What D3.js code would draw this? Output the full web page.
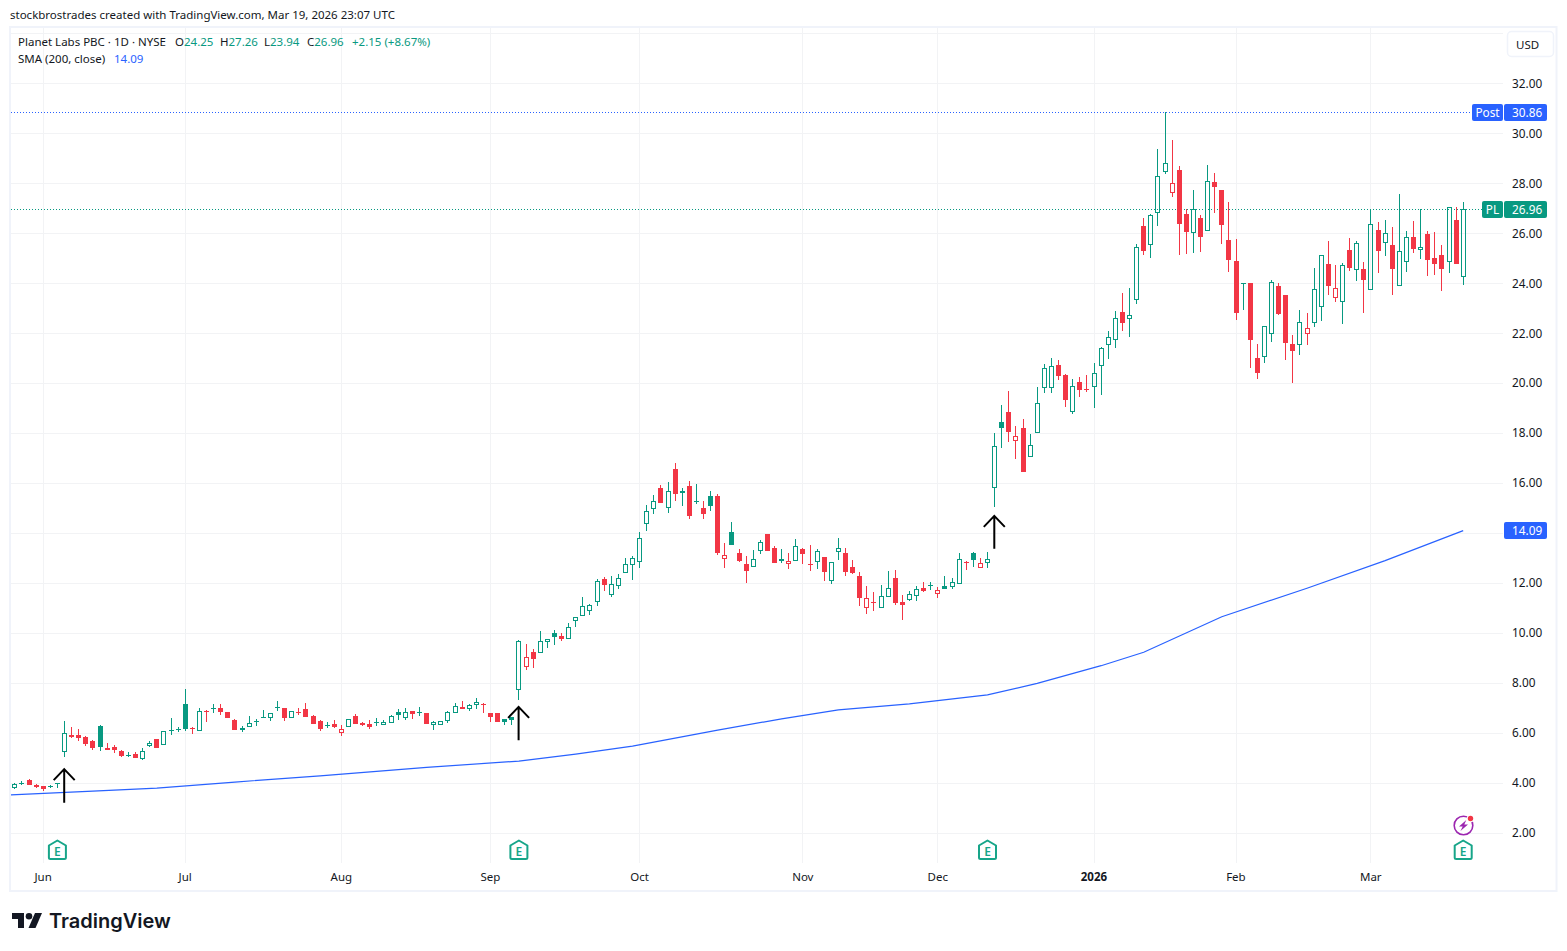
<!DOCTYPE html>
<html>
<head>
<meta charset="utf-8">
<title>Planet Labs PBC daily chart</title>
<script src="https://cdn.jsdelivr.net/npm/d3@7/dist/d3.min.js"></script>
<style>
  html, body { margin: 0; padding: 0; background: #fff; }
  svg { display: block; }
  text { font-family: "Noto Sans", sans-serif; font-size: 11.5px; fill: #131722; }
</style>
</head>
<body>
<svg id="chart" width="1567" height="951"></svg>
<script>
// Daily sessions, oldest first
const opens = [3.77,3.99,4.10,3.89,3.85,3.82,3.97,5.21,5.89,5.89,5.81,5.66,6.27,5.29,5.42,5.26,5.10,5.14,4.96,5.48,
5.73,5.52,6.07,6.09,7.15,6.18,6.08,6.85,6.96,6.97,6.81,6.50,6.09,6.21,6.45,6.60,6.60,7.00,6.99,6.57,
6.84,6.95,6.67,6.47,6.30,6.34,6.00,6.24,6.67,6.39,6.34,6.39,6.32,6.40,6.83,6.60,6.85,6.81,6.79,6.32,
6.32,6.48,6.77,7.01,6.96,7.12,7.16,6.79,6.79,6.53,6.61,7.69,8.64,9.23,9.18,9.62,9.99,9.87,9.74,10.46,
10.66,10.86,11.22,12.14,11.50,11.86,12.38,12.70,12.82,14.34,14.94,15.80,14.98,16.56,15.58,15.88,15.25,14.99,15.48,15.48,
12.97,14.04,13.18,12.74,12.62,13.29,13.95,13.39,12.94,12.74,12.89,13.34,12.74,12.82,13.03,12.09,13.22,13.18,12.62,12.27,
10.98,11.23,11.00,11.45,12.19,11.23,11.32,11.49,11.78,11.88,11.57,11.86,11.82,11.94,12.84,13.18,12.61,12.78,15.78,18.43,
18.83,17.67,18.19,17.02,17.99,19.79,19.79,20.71,20.31,18.85,20.03,19.76,19.86,20.70,21.51,21.71,22.83,22.58,23.31,26.29,
25.52,26.80,28.44,27.60,28.53,26.76,26.00,26.60,26.08,28.04,27.72,25.71,24.87,23.96,23.99,20.99,21.03,21.95,23.89,23.51,
21.55,21.51,21.98,22.39,23.03,24.76,23.39,23.23,25.33,24.51,24.55,23.71,26.11,25.59,25.51,23.87,24.83,25.83,25.34,25.95,
24.99,25.11,24.83,26.51,24.25];
const highs = [3.97,4.06,4.14,3.93,3.85,3.90,4.00,6.47,6.22,6.14,5.86,5.70,6.29,5.57,5.49,5.30,5.21,5.22,5.37,5.65,
5.75,6.08,6.59,6.21,7.75,6.21,6.97,6.91,7.15,7.15,6.81,6.54,6.25,6.65,6.55,6.89,6.78,7.27,6.99,6.85,
6.99,7.19,6.70,6.49,6.41,6.50,6.29,6.53,6.75,6.42,6.50,6.59,6.50,6.70,6.96,6.97,6.85,7.01,6.79,6.45,
6.48,6.87,7.20,7.25,7.15,7.37,7.17,6.79,6.79,6.53,6.61,9.70,9.55,9.35,10.06,9.76,10.11,9.99,10.39,10.62,
11.43,11.15,12.14,12.23,12.27,12.35,13.00,13.06,14.04,15.12,15.52,15.92,16.04,16.80,15.80,16.08,15.96,15.28,15.68,15.56,
13.59,14.44,13.35,13.06,13.31,13.71,13.95,13.47,13.35,13.19,13.75,13.39,13.51,13.34,13.03,12.82,13.79,13.39,12.91,12.43,
11.87,11.62,11.91,12.47,12.51,11.51,11.66,11.87,12.03,12.03,11.82,12.27,12.19,13.19,12.89,13.23,12.99,13.23,17.99,19.12,
19.68,18.28,18.56,17.96,19.84,20.76,20.99,20.92,20.36,20.16,20.24,20.31,20.79,21.43,22.07,22.87,23.61,23.81,25.55,26.61,
26.77,29.37,30.86,29.73,28.69,26.96,27.73,26.73,28.73,28.41,27.72,27.25,25.75,24.00,23.99,21.56,22.27,24.12,24.00,23.51,
21.91,22.92,22.79,24.60,25.11,25.69,24.72,24.79,25.81,25.69,24.83,26.96,26.45,26.53,26.25,27.57,26.09,26.49,26.95,26.07,
26.05,25.51,27.07,27.07,27.26];
const lows = [3.76,3.91,3.90,3.79,3.67,3.79,3.80,5.04,5.78,5.66,5.46,5.29,5.26,5.29,5.20,5.04,5.02,4.98,4.90,5.41,
5.38,5.52,5.92,6.01,6.08,5.96,6.08,6.44,6.77,6.70,6.60,6.10,6.04,6.21,6.25,6.59,6.48,6.87,6.48,6.57,
6.70,6.64,6.35,6.08,6.20,6.18,5.88,6.24,6.33,6.28,6.16,6.28,6.29,6.38,6.50,6.50,6.55,6.67,6.36,6.10,
6.32,6.40,6.77,6.96,6.88,6.96,6.80,6.44,6.43,6.30,6.30,7.32,8.51,8.59,9.18,9.40,9.51,9.67,9.74,10.24,
10.66,10.72,11.08,11.69,11.45,11.76,12.38,12.13,12.61,14.09,14.77,15.21,14.81,15.29,15.09,14.55,15.17,14.55,14.89,13.11,
12.61,13.53,12.85,12.00,12.62,13.15,13.29,12.81,12.81,12.55,12.89,12.75,12.49,12.55,12.07,11.97,12.91,12.27,12.35,11.07,
10.75,10.88,11.00,11.45,11.12,10.51,11.28,11.28,11.63,11.73,11.40,11.75,11.77,11.94,12.53,12.65,12.59,12.60,15.05,17.41,
17.65,16.97,16.45,17.02,17.99,19.61,19.61,20.13,19.05,18.77,19.45,19.65,19.01,19.53,20.98,21.42,22.10,21.86,23.18,25.14,
25.02,26.30,28.39,27.45,25.14,25.18,25.22,25.26,26.08,26.82,25.58,24.46,22.51,22.94,20.61,20.17,20.82,21.66,22.74,20.92,
20.00,21.14,21.52,22.26,22.50,23.52,23.26,22.38,24.49,24.10,22.82,23.71,24.42,25.10,23.54,23.87,24.46,25.22,24.98,24.28,
24.32,23.70,24.42,24.78,23.94];
const closes = [3.96,4.00,3.91,3.83,3.73,3.85,3.99,5.97,5.83,5.78,5.56,5.40,5.44,5.37,5.31,5.08,5.12,4.98,5.28,5.57,
5.38,6.05,6.10,6.13,6.16,6.15,6.85,6.82,6.98,6.84,6.60,6.10,6.20,6.40,6.47,6.62,6.77,7.01,6.60,6.85,
6.83,6.64,6.35,6.14,6.32,6.22,6.16,6.53,6.35,6.31,6.22,6.41,6.42,6.67,6.72,6.81,6.75,6.83,6.36,6.41,
6.48,6.81,7.05,6.96,7.09,7.21,7.11,6.64,6.43,6.44,6.52,9.66,9.02,8.95,9.66,9.76,9.84,9.73,10.22,10.62,
11.08,11.10,12.06,11.93,11.94,12.18,12.77,12.98,13.78,14.86,15.29,15.21,15.66,15.57,15.66,14.69,15.27,14.77,15.09,13.21,
13.10,13.53,12.89,12.49,12.94,13.62,13.29,12.81,12.87,12.86,13.46,13.17,12.73,13.26,12.45,12.82,13.38,12.45,12.39,11.40,
11.38,11.22,11.46,11.78,11.20,11.11,11.54,11.74,11.67,11.90,11.70,11.75,12.02,12.94,12.82,12.93,12.81,12.94,17.47,18.21,
18.05,17.87,16.45,17.50,19.19,20.59,20.70,20.30,19.33,19.87,19.73,19.72,20.39,21.39,21.83,22.59,22.42,22.71,25.43,25.30,
26.72,28.28,28.80,28.00,26.38,26.06,26.96,25.86,28.08,27.86,26.34,24.94,22.82,23.99,21.74,20.41,22.27,24.03,22.78,21.62,
21.30,22.43,22.19,23.75,25.11,23.90,23.79,24.71,24.62,25.59,24.14,26.35,25.30,25.99,24.58,25.27,25.83,25.38,25.43,24.94,
24.78,24.58,27.06,24.78,26.96];

// 200-day average, read at selected sessions
const smaBars = [-1,11,20,31,43,58,71,79,87,99,108,116,126,137,144,153,159,170,182,193,204];
const smaValues = [3.50,3.66,3.78,4.02,4.27,4.61,4.86,5.14,5.46,6.10,6.55,6.91,7.15,7.51,7.97,8.68,9.22,10.64,11.78,12.89,14.09];

// Axis ticks
const priceTicks = [2,4,6,8,10,12,14,16,18,20,22,24,26,28,30,32];
const gridPrices = [2,4,6,8,10,12,14,16,18,20,22,24,26,28,30,32,34];
const monthBars = [4,24,46,67,88,111,130,152,172,191];
const monthLabels = ["Jun","Jul","Aug","Sep","Oct","Nov","Dec","2026","Feb","Mar"];

// Session markers
const earningsBars = [6,71,137,204];
const arrowBars = [7,71,138];
const arrowTips = [4.54,7.03,14.68];
const arrowTails = [3.19,5.69,13.36];

// Last-price tags
const postPrice = 30.86;
const lastPrice = 26.96;
const smaLast = 14.09;

const GREEN = "#089981", RED = "#f23645", BLUE = "#2962ff", GRID = "#f2f3f5", FRAME = "#f0f3fa";

const svg = d3.select("#chart");
const x = d3.scaleLinear().domain([0, 204]).range([14.8, 1463.2]);
const y = d3.scaleLinear().domain([2, 32]).range([832.5, 83.4]);
const px = i => Math.floor(x(i)) + 0.5;   // snap to the pixel grid so wicks stay crisp
const py = v => Math.round(y(v));

svg.append("defs").append("clipPath").attr("id", "pane")
  .append("rect").attr("x", 11).attr("y", 28).attr("width", 1492).attr("height", 835);

// Frame
svg.append("rect").attr("x", 10).attr("y", 27).attr("width", 1546.5).attr("height", 864)
  .attr("fill", "#fff").attr("stroke", FRAME).attr("stroke-width", 2);

// Grid
const grid = svg.append("g").attr("clip-path", "url(#pane)");
grid.selectAll(".h").data(gridPrices).join("line")
  .attr("x1", 11).attr("x2", 1503)
  .attr("y1", d => py(d) + 0.5).attr("y2", d => py(d) + 0.5)
  .attr("stroke", GRID);
grid.selectAll(".v").data(monthBars).join("line")
  .attr("x1", d => px(d)).attr("x2", d => px(d))
  .attr("y1", 28).attr("y2", 863)
  .attr("stroke", GRID);

const pane = svg.append("g").attr("clip-path", "url(#pane)");

// Reference price lines
[[postPrice, BLUE, 1472], [lastPrice, GREEN, 1482]].forEach(([v, c, end]) => {
  pane.append("line").attr("x1", 11).attr("x2", end)
    .attr("y1", py(v) + 0.5).attr("y2", py(v) + 0.5)
    .attr("stroke", c).attr("stroke-dasharray", "1 2");
});

// Moving average
const smaLine = d3.line().x(d => x(d[0])).y(d => y(d[1]));
pane.append("path")
  .attr("d", smaLine(d3.zip(smaBars, smaValues)))
  .attr("fill", "none").attr("stroke", BLUE).attr("stroke-width", 1.2);

// Hollow candles: outline when the close is above the open, colour follows the previous close
const candles = d3.range(closes.length).map(i => ({
  i, o: opens[i], h: highs[i], l: lows[i], c: closes[i],
  color: closes[i] >= (i ? closes[i - 1] : opens[i]) ? GREEN : RED
}));
const candle = pane.selectAll(".candle").data(candles).join("g");
candle.append("line")
  .attr("x1", d => px(d.i)).attr("x2", d => px(d.i))
  .attr("y1", d => py(d.h)).attr("y2", d => py(Math.max(d.o, d.c)))
  .attr("stroke", d => d.color);
candle.append("line")
  .attr("x1", d => px(d.i)).attr("x2", d => px(d.i))
  .attr("y1", d => py(Math.min(d.o, d.c))).attr("y2", d => py(d.l))
  .attr("stroke", d => d.color);
candle.each(function (d) {
  const top = py(Math.max(d.o, d.c)), bot = py(Math.min(d.o, d.c));
  const cx = px(d.i);
  const g = d3.select(this);
  if (d.c >= d.o && bot - top >= 3) {
    g.append("rect").attr("x", cx - 2).attr("width", 4)
      .attr("y", top + 0.5).attr("height", bot - top - 1)
      .attr("fill", "none").attr("stroke", d.color);
  } else {
    g.append("rect").attr("x", cx - 2.5).attr("width", 5)
      .attr("y", top).attr("height", Math.max(1, bot - top))
      .attr("fill", d.color);
  }
});

// Hand-drawn arrows under the earnings gaps
arrowBars.forEach((b, k) => {
  const ax = x(b) - 0.3, tip = y(arrowTips[k]), tail = y(arrowTails[k]);
  const head = d3.path();
  head.moveTo(ax, tail);
  head.lineTo(ax, tip);
  head.moveTo(ax - 10.5, tip + 11);
  head.lineTo(ax, tip);
  head.lineTo(ax + 10.5, tip + 11);
  svg.append("path").attr("d", head.toString())
    .attr("fill", "none").attr("stroke", "#000").attr("stroke-width", 2);
});

// Earnings badges
const badge = svg.selectAll(".badge").data(earningsBars).join("g")
  .attr("transform", d => `translate(${x(d)},850)`);
badge.append("path")
  .attr("d", "M-8.5,-4.5 L0,-9.5 L8.5,-4.5 L8.5,7.5 Q8.5,9 7,9 L-7,9 Q-8.5,9 -8.5,7.5 Z")
  .attr("fill", "#fff").attr("stroke", "#17a589").attr("stroke-width", 2).attr("stroke-linejoin", "round");
badge.append("text").text("E").attr("text-anchor", "middle").attr("y", 5.5)
  .style("font-size", "12px").style("font-weight", 600).style("fill", "#17a589");

// Price axis
const yAxis = d3.axisRight(y).tickValues(priceTicks).tickSize(0).tickPadding(0)
  .tickFormat(d3.format(".2f"));
const yG = svg.append("g").attr("transform", "translate(1512,0)").call(yAxis);
yG.select(".domain").remove();
yG.selectAll("text").attr("dy", "0.33em").style("font-family", '"Noto Sans", sans-serif').style("font-size", "11.8px").style("fill", "#131722");

// Time axis
const xAxis = d3.axisBottom(x).tickValues(monthBars).tickSize(0).tickPadding(0)
  .tickFormat((d, k) => monthLabels[k]);
const xG = svg.append("g").attr("transform", "translate(-0.6,872.5)").call(xAxis);
xG.select(".domain").remove();
xG.selectAll("text").attr("dy", "0.71em").style("font-family", '"Noto Sans", sans-serif').style("font-size", "11.5px").style("fill", "#131722")
  .style("font-weight", (d, k) => monthLabels[k] === "2026" ? 700 : 400);

// Price tags
function tag(value, label, color, labelLeft) {
  const cy = Math.round(y(value) - 0.3) + 0.5;
  const g = svg.append("g");
  if (label) {
    g.append("rect").attr("x", labelLeft).attr("y", cy - 8.5).attr("width", 1503 - labelLeft).attr("height", 17)
      .attr("rx", 2).attr("fill", color);
    g.append("text").text(label).attr("x", (labelLeft + 1503) / 2).attr("y", cy + 4.2)
      .attr("text-anchor", "middle").style("fill", "#fff").style("font-size", "11.8px");
  }
  g.append("rect").attr("x", 1504).attr("y", cy - 8.5).attr("width", 43).attr("height", 17)
    .attr("rx", 2).attr("fill", color);
  g.append("text").text(value.toFixed(2)).attr("x", 1512).attr("y", cy + 4.2).style("fill", "#fff").style("font-size", "11.8px");
}
tag(postPrice, "Post", BLUE, 1472);
tag(lastPrice, "PL", GREEN, 1482);
tag(smaLast, null, BLUE);

// Currency button
svg.append("rect").attr("x", 1507.5).attr("y", 31.5).attr("width", 46).attr("height", 25)
  .attr("rx", 4).attr("fill", "#fff").attr("stroke", FRAME).attr("stroke-width", 1.5);
svg.append("text").text("USD").attr("x", 1516).attr("y", 49);

// Alert icon
const alertG = svg.append("g").attr("transform", "translate(1463.5,825.5)");
alertG.append("circle").attr("r", 9.3).attr("fill", "#fff").attr("stroke", "#9c27b0").attr("stroke-width", 1.6);
alertG.append("path").attr("d", "M2.8,-5.5 L-4.5,1 L-0.8,1 L-3,5.5 L4.5,-1 L0.8,-1 Z").attr("fill", "#9c27b0");
alertG.append("circle").attr("cx", 7).attr("cy", -7).attr("r", 3.7).attr("fill", "#fff");
alertG.append("circle").attr("cx", 7).attr("cy", -7).attr("r", 2.7).attr("fill", RED);

// Header and legend
svg.append("text").text("stockbrostrades created with TradingView.com, Mar 19, 2026 23:07 UTC").attr("x", 10).attr("y", 19);
svg.append("text").text("Planet Labs PBC · 1D · NYSE").attr("x", 18).attr("y", 46);
const legendValues = [["O", "24.25", 175], ["H", "27.26", 220], ["L", "23.94", 264], ["C", "26.96", 307]];
legendValues.forEach(([k, v, lx]) => {
  const t = svg.append("text").attr("x", lx).attr("y", 46);
  t.append("tspan").text(k);
  t.append("tspan").text(v).style("fill", GREEN);
});
svg.append("text").text("+2.15 (+8.67%)").attr("x", 352).attr("y", 46).style("fill", GREEN);
svg.append("text").text("SMA (200, close)").attr("x", 18).attr("y", 63);
svg.append("text").text("14.09").attr("x", 114).attr("y", 63).style("fill", BLUE);

// Footer logo
const logo = svg.append("g").attr("fill", "#131722");
logo.append("path").attr("d", "M12,913 H24 V928 H18 V919 H12 Z");
logo.append("circle").attr("cx", 29).attr("cy", 916.3).attr("r", 3.3);
logo.append("path").attr("d", "M35.5,928 H28.5 L35,913 H42 Z");
svg.append("text").text("TradingView").attr("x", 49).attr("y", 927.5)
  .style("font-family", "Inter, sans-serif").style("font-size", "20px").style("font-weight", 600).style("fill", "#131722");
</script>
</body>
</html>
